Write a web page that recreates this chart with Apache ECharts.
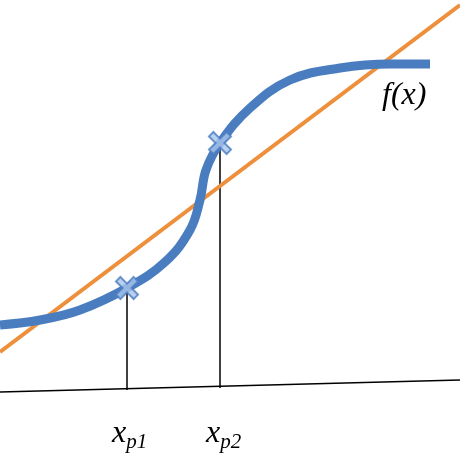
<!DOCTYPE html>
<html>
<head>
<meta charset="utf-8">
<script src="https://cdn.jsdelivr.net/npm/echarts@6/dist/echarts.min.js"></script>
<style>html,body{margin:0;background:#fff}#c{width:460px;height:460px}</style>
</head>
<body>
<div id="c"></div>
<script>
// curve f(x), secant line, base axis, sample points
var curveX = [0, 40, 80, 127, 165, 190, 200, 206, 220, 250, 290, 340, 390, 430];
var curveY = [135, 140, 150, 172, 198, 230, 260, 290, 317, 352, 380, 392, 396, 396];
var secant = [[0, 108], [460, 455]];
var baseLine = [[0, 68], [460, 80]];
var samples = [[127, 172], [220, 317]];
var sampleBase = [70, 72];

var curve = curveX.map(function (x, i) { return [x, curveY[i]]; });
var xMark = 'path://M2,0 L5,3 L8,0 L10,2 L7,5 L10,8 L8,10 L5,7 L2,10 L0,8 L3,5 L0,2 Z';
var serif = 'Liberation Serif';

var chart = echarts.init(document.getElementById('c'));
var series = [
    {type: 'line', data: baseLine, symbol: 'none', lineStyle: {color: '#000', width: 1.5}},
    {type: 'line', data: secant, symbol: 'none', lineStyle: {color: '#ED8F3B', width: 4}},
    {type: 'line', data: curve, smooth: 0.4, symbol: 'none', lineStyle: {color: '#4A7DC0', width: 9}}
];
samples.forEach(function (p, i) {
    series.push({type: 'line', data: [[p[0], sampleBase[i]], p], symbol: 'none', z: 1,
        lineStyle: {color: '#000', width: 1.5}});
});
series.push({type: 'scatter', data: samples, symbol: xMark, symbolSize: 22, z: 5,
    itemStyle: {color: '#A9C4EB', borderColor: '#4A7DC0', borderWidth: 2}});

var rich = {
    x: {fontFamily: serif, fontStyle: 'italic', fontSize: 32, fill: '#000'},
    s: {fontFamily: serif, fontStyle: 'italic', fontSize: 21, fill: '#000', padding: [16, 0, 0, 0]}
};
chart.setOption({
    animation: false,
    grid: {left: 0, right: 0, top: 0, bottom: 0},
    xAxis: {type: 'value', min: 0, max: 460, show: false},
    yAxis: {type: 'value', min: 0, max: 460, show: false},
    series: series,
    graphic: [
        {type: 'text', left: 112, top: 418, style: {rich: rich, text: '{x|x}{s|p1}'}},
        {type: 'text', left: 206, top: 418, style: {rich: rich, text: '{x|x}{s|p2}'}},
        {type: 'text', left: 382, top: 80, style: {text: 'f(x)',
            fontFamily: serif, fontStyle: 'italic', fontSize: 32, fill: '#000'}}
    ]
});
</script>
</body>
</html>
